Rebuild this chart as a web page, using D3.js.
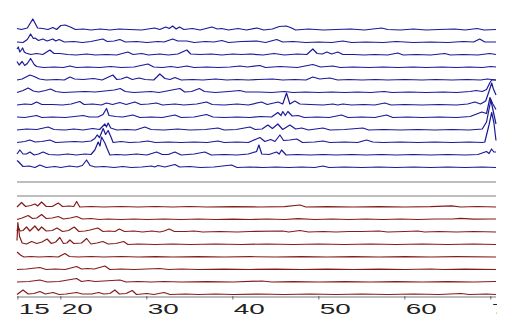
<!DOCTYPE html>
<html>
<head>
<meta charset="utf-8">
<script src="https://cdn.jsdelivr.net/npm/d3@7"></script>
<style>
  body { margin: 0; background: #fff; }
  svg { display: block; }
</style>
</head>
<body>
<svg id="chart"></svg>
<script>
// x positions (same units as the axis) and peak heights
const blueTraces = [
  [[14.9,1.5],[15.4,0.5],[16.1,2],[16.74,11],[17.3,2],[17.9,1.5],[18.5,0.5],[19.07,2.5],[19.5,0.5],[20,4.5],[20.5,5],[21.1,3],[21.7,0.5],[22.6,1],[23.5,0],[24.6,1],[25.7,0],[26.8,1],[28,0.5],[29.4,0],[30.9,2],[31.5,0.5],[32.2,3],[32.6,1.5],[33.0,4],[33.4,1],[33.8,3],[34.3,0.5],[35.3,1.5],[36.2,0],[37.56,3],[38.2,1],[38.7,1.5],[39.5,0],[40.6,1.5],[41.6,0],[42.8,2],[43.6,0],[44.6,1],[45.4,3.5],[46.2,4],[46.7,2.5],[47.3,0],[48.8,1],[50.5,0],[52,0.5],[53.7,1],[55.3,0],[57.3,2],[58,0.5],[59.5,0],[61,1],[62.5,0],[64,0.5],[65.8,1],[67,0],[68.4,1.5],[69.2,0],[70.6,0.5]],
  [[14.9,0.5],[15.6,0],[16.1,3],[16.48,8.5],[16.8,4],[17.0,4.5],[17.4,2],[17.9,3.5],[18.4,1.5],[19.07,3.5],[19.4,1.5],[19.8,3],[20.4,0.5],[21.5,1],[22.5,0],[23.5,1],[24.88,3.5],[25.4,1],[26.2,1.5],[26.86,3],[27.5,0.5],[28.8,1],[30,0],[31.3,1],[32,0.5],[33.0,3.5],[33.6,1.5],[34.65,1.5],[35.5,0],[36.8,1],[37.8,0.5],[38.72,2],[39.5,0],[41,1],[42.79,1.5],[43.8,0],[45.1,3],[45.8,0.5],[47,1],[48.5,0],[50,0.5],[51.5,0],[52.8,1.5],[53.8,0],[55.5,0.5],[57.5,0],[59,1],[61,0],[63,0.5],[65,0],[66.8,1],[68.0,0.5],[68.7,3.5],[69.3,0.5],[70.6,0.5]],
  [[14.9,6],[15.05,8],[15.23,3],[15.4,5],[15.55,7],[15.75,3],[15.93,2],[16.5,0.5],[17.2,1.5],[17.9,0.5],[18.72,5],[19.2,1.5],[19.9,1.5],[20.8,0.5],[21.8,0],[23,1],[24,0],[25.3,0.5],[26.5,0],[27.79,3],[28.4,0.5],[29.4,1.5],[30.2,0],[31.5,1],[32.5,0],[33.6,1],[34.65,5],[35.1,1],[36.2,0.5],[37.5,1],[38.7,0],[40,1],[41,0.5],[42,1],[43.5,0],[44.8,1.5],[46,0],[47.5,1],[48.6,0.5],[49.3,6],[49.8,1.5],[50.4,1],[50.93,3],[51.5,1],[52.2,3],[52.8,0.5],[54,0.5],[55.3,0],[56.5,0.5],[58,0],[59.19,2],[59.8,0],[61.3,0.5],[63,0],[64.65,1.5],[65.3,0],[66.8,0.5],[68.5,0],[69.88,1.5],[70.6,0.5]],
  [[14.9,6],[15.15,2.5],[15.5,6],[15.8,2],[16.1,4],[16.48,9],[16.9,3],[17.17,1],[18,0],[19.2,0.5],[20.3,0],[21.05,1.5],[21.8,0],[23.1,0.5],[24.5,0],[25.8,1],[27,0],[28.5,0.5],[30.12,3.5],[30.8,0.5],[31.8,0],[32.8,1],[33.6,0],[34.65,1.5],[35.5,0],[37,0.5],[38.3,0],[39.7,0.5],[40.81,1.5],[41.7,0.5],[43.14,2],[43.8,0],[45.5,1],[46.5,0.5],[47.5,0],[49.3,3],[50.2,0.5],[51.63,1.5],[52.5,0],[54,0.5],[55.8,0],[57.5,0.5],[59.2,0],[61,0.5],[62.5,0],[64.3,0.5],[66,0],[67.5,0.5],[69,0],[70,1],[70.6,0.5]],
  [[14.9,0],[15.5,1],[16.4,5],[16.9,3.5],[17.5,1],[18.3,0],[19.5,0.5],[20.4,0],[21.05,3],[21.6,1],[22.6,0.5],[23.8,1.5],[24.8,0],[26.05,5],[26.5,0.5],[27.0,1],[27.67,3],[28.3,0.5],[29.1,2],[29.8,0.5],[30.8,0],[31.51,6],[32.1,1.5],[32.7,0.5],[33.26,2.5],[34,0],[35.3,0.5],[36.5,0],[38,1],[39.3,0],[40.5,0.5],[41.8,0],[43,0.5],[44.6,1],[45.8,0],[47.2,0.5],[48.5,0],[49.3,3],[50.1,1],[51.28,2],[52.2,0],[53.5,0.5],[55,0],[56.6,0.5],[58,0],[60,0.5],[62,0],[63.6,0.5],[65.5,0],[67.2,0.5],[68.8,0],[69.6,1],[70.6,0]],
  [[14.9,0],[15.6,2],[16.2,4.5],[16.8,1.5],[17.4,0.5],[18.2,2],[18.8,3.5],[19.4,1],[20.3,0],[21.5,0.5],[22.8,1],[24,0.5],[25.1,1.5],[26.2,2.5],[26.9,4],[27.5,1],[28.5,0],[29.5,0.5],[30.5,1],[31.4,0],[33.84,4],[34.4,0.5],[35.2,1],[36.1,4],[36.7,1],[38,0],[39.5,1],[40.81,2],[41.5,0.5],[43,0.5],[44.5,0],[46,1],[47,0],[48.5,0.5],[50,0],[51.5,0.5],[53,0],[54.5,0.5],[56,0],[57.6,1],[58.5,0],[60.5,0.5],[62.5,0],[64.5,0.5],[66,0],[67.6,1],[68.3,2],[69,1],[69.5,3],[69.9,10],[70.1,12.5],[70.6,12.5]],
  [[14.9,0],[15.8,1],[16.6,0.5],[17.17,3],[17.8,0.5],[19,0.5],[20.2,0],[21.2,1],[22.2,3.5],[22.7,0.5],[23.7,1],[24.7,0],[25.31,2],[26,0.5],[26.86,2.5],[27.6,0.5],[28.6,3],[29.3,0.5],[30.2,1],[31.13,2],[31.8,0],[33.26,1],[34.3,0],[35.8,1],[36.94,3],[37.6,0.5],[39,0],[40.5,1],[41.8,0],[43.34,3],[44,0.5],[45.27,3],[45.8,1],[46.24,12],[46.63,1],[47.2,4],[47.8,1],[49,0.5],[50.5,0],[51.63,1],[52.2,0],[52.79,1],[53.8,0],[55.2,0.5],[56.5,0],[57.67,2],[58.4,0],[60,0.5],[62,0],[64,0.5],[66,0],[67.3,1],[68.14,3],[68.8,1],[69.4,4],[69.8,14],[70.1,22],[70.3,16],[70.6,10]],
  [[14.9,0.5],[15.8,0],[16.5,1],[17.17,2],[17.8,0],[19,0.5],[20.5,0],[21.6,1],[22.6,2],[23.3,0.5],[24.3,0.5],[24.9,3],[25.31,9],[25.6,2],[26.4,1],[27.2,0.5],[28.37,2.5],[29.2,0],[30.5,0.5],[31.8,0],[33.26,2.5],[34,0],[35.5,0.5],[36.94,3],[37.7,0.5],[39,0],[40.5,0.5],[42,0],[43.2,1],[44.5,0.5],[45.23,5],[45.6,2],[45.81,6],[46.1,2],[46.4,6],[46.9,1.5],[47.6,2],[48.3,0],[49.8,0.5],[51.2,0],[52.64,2.5],[53.4,0],[55,0.5],[56.5,0],[57.87,2.5],[58.6,0],[60.3,0.5],[62,0],[64,0.5],[66,0],[67.6,1],[68.95,5.5],[69.5,4],[69.9,20],[70.2,14],[70.6,8]],
  [[14.9,0],[16,1],[17.2,0.5],[18.52,3],[19.2,0.5],[20.5,0],[21.5,1],[22.6,0],[23.7,1.5],[24.5,0.5],[25.12,6],[25.3,3],[25.5,7],[25.8,2],[26.5,0],[27.6,0.5],[28.7,0],[29.77,3],[30.5,0.5],[32,0],[33.6,1],[35,0],[36.8,0.5],[38.26,2],[39,0],[40.4,0.5],[41.98,3],[42.6,0.5],[43.4,1],[44.07,5],[44.6,1.5],[45.23,6],[45.8,0.5],[46.63,5],[47.3,1],[48,2],[48.8,0],[50.47,2],[51.3,0],[53,0.5],[55.12,2],[55.8,0],[57.5,0.5],[59.5,0],[61.5,0.5],[63.5,0],[65.5,0.5],[67.5,0],[69.0,1],[69.5,8],[70.0,30],[70.3,18],[70.6,6]],
  [[14.9,0],[15.8,1],[16.4,2.5],[17,0.5],[17.8,1],[18.72,2.5],[19.4,0],[20.5,0.5],[21.6,1],[22.5,0.5],[23.5,1.5],[23.95,4],[24.22,7.5],[24.5,5],[24.92,14],[25.2,8],[25.5,12],[25.8,6],[26.08,0],[27,1],[28,0],[29.2,0.5],[30.12,1.5],[31,0],[32.5,0.5],[34,0],[35.5,0.5],[37,0],[38.26,1.5],[39,0],[40.5,0.5],[41.8,0],[43.14,5],[43.72,1],[44.4,3],[44.9,1],[45.47,7.5],[45.9,2],[46.6,2.5],[47.44,3.5],[48.1,0],[49.5,0.5],[50.47,1.5],[51.3,0],[53,0.5],[54.5,0],[55.55,2.5],[56.28,0.5],[57.5,0],[59.5,0.5],[61.5,0],[63.5,0.5],[65.5,0],[67.5,0.5],[69.0,0],[69.3,0.5],[69.8,18],[70.1,30],[70.35,20],[70.6,2]],
  [[14.9,1],[15.23,5],[15.6,1],[16.0,1],[16.4,3],[16.9,0],[17.4,1],[17.94,3],[18.6,0.5],[19.7,0],[20.8,1],[21.8,0],[22.8,1],[23.5,0.5],[23.95,5],[24.34,13],[24.55,9],[24.73,18],[25.12,12],[25.4,6],[25.7,0],[26.5,0.5],[27.5,0],[28.8,1],[30,0],[31.13,3],[31.8,0.5],[32.5,0.5],[33.26,3],[34,0],[35.5,1],[36.74,3],[37.5,0],[39,0.5],[40.5,0],[41.8,1],[42.76,3.5],[43.03,10],[43.36,1],[44.2,0.5],[45.08,3],[45.4,1],[45.66,5],[46.2,0],[47.5,0.5],[49,0],[50.5,0.5],[52,0],[53.8,0.5],[55.5,0],[57.3,0.5],[59,0],[61,0.5],[63,0],[65,0.5],[67,0],[68.5,0.5],[69.49,3.5],[69.8,1.5],[70.08,6],[70.35,3],[70.6,3]],
  [[14.9,7],[15.05,6],[15.6,1],[16.3,1.5],[17,0],[17.56,2.5],[18.3,0],[19.3,1],[20,0],[21,1.5],[21.9,0.5],[22.5,2],[22.99,7.5],[23.4,2],[24,0.5],[25,1],[26.2,0],[27.2,1],[28.2,0],[29.4,0.5],[30.55,1.5],[30.9,0.5],[31.31,2],[32.1,0.5],[33.26,3],[33.8,0.5],[35,1],[36.2,0],[37.8,0.5],[39.85,2.5],[40.5,0],[42,0.5],[43.5,0],[45,0.5],[46.5,0],[48,0.5],[49.5,0],[50.47,1.5],[51.2,0],[53,0.5],[55,0],[57,0.5],[59,0],[61,0.5],[63,0],[65,0.5],[67,0],[69,0.5],[70.6,0]]
];

const redTraces = [
  [[14.9,0],[15.43,4.5],[15.9,0.5],[16.5,1.5],[16.98,3],[17.3,1],[17.76,5],[18.3,0.5],[19.0,0.5],[19.69,4],[20.2,0.5],[21.0,1],[21.5,0.5],[21.83,5.5],[22.2,0],[23.5,0.5],[25,0],[27,0.5],[29,0],[31,0.5],[33,0],[35,0.5],[37,0],[40,0.3],[43,0],[46,0.3],[47.79,2],[48.5,0],[51,0.3],[54,0],[57,0.3],[60,0],[63,0.3],[65.43,1.2],[66.5,0],[68.5,0.5],[70.6,0]],
  [[14.9,0],[15.5,1.5],[16.2,4],[16.7,1],[17.2,1.5],[17.76,5],[18.3,1],[19,1.5],[19.69,3],[20.3,0.5],[21.1,1.5],[21.83,3],[22.5,0.5],[23.5,1],[24.5,0],[25.5,0.5],[27,0],[28.5,0.5],[30,0],[32,0.5],[34,0],[36,0.5],[38,0],[40,0.3],[42,0],[44,0.5],[46,0],[47.6,0.8],[49.5,0],[51.5,0.5],[53.5,0],[55.5,0.5],[57.5,0],[59.5,0.5],[61.5,0],[63.5,0.5],[65.5,0.5],[66.5,1.2],[68,0.3],[70,0.5],[70.6,0.5]],
  [[14.9,1],[15.05,5],[15.25,1],[15.6,1.5],[16.0,5],[16.4,1],[16.98,6],[17.4,1.5],[17.76,5],[18.3,1],[19.0,1.5],[19.55,4],[20.2,0.5],[20.9,1.5],[21.55,5],[22.1,0.5],[22.8,1],[23.4,2],[24.3,4],[24.9,0.5],[25.6,1],[26.3,0.5],[26.8,3],[27.4,0.5],[28.5,1],[29.5,0],[30.6,1],[31.5,0],[32.0,1],[32.6,3],[33.2,0.5],[34.5,0.5],[35.5,1],[36.5,0],[38.5,0.5],[40.5,0],[42,0.5],[45.8,1],[46.5,0],[47.8,1.5],[48.8,0],[50.5,0.5],[52,0],[53.5,0.5],[55,0.5],[57,1],[58,0],[60,0.5],[61.5,1],[62.3,0],[64,0.5],[66,0],[68,0.5],[70.6,0]],
  [[14.9,4],[15.0,22],[15.2,8],[15.5,1.5],[16,0.5],[16.6,3],[17.2,1],[17.8,2.5],[18.4,5.5],[18.9,1],[19.4,2.5],[19.88,7],[20.3,1],[20.7,1.5],[21.05,4.5],[21.5,1],[22.4,1.5],[23.0,6],[23.5,0.5],[24.2,1.5],[24.88,3],[25.5,0.5],[26.4,1],[27.3,3],[27.8,0],[29,0.5],[31,0],[33,0.5],[35,0],[38,0.5],[41,0],[44,0.5],[47,0],[50,0.5],[53,0],[56,0.5],[59,0],[62,0.5],[65,0],[68,0.5],[70.6,0]],
  [[14.9,5],[15.3,2],[15.7,0],[16.5,0.5],[17.5,0],[18.7,0.5],[19.7,0],[20.47,3.5],[21.0,0.5],[22,0],[23.5,0.5],[25,0],[27,0.5],[29,0],[31,0.3],[33,0],[36,0.3],[39,0],[42,0.3],[45,0],[48,0.3],[51,0],[54,0.3],[57,0],[60,0.3],[63,0],[66,0.3],[70.6,0]],
  [[14.9,0],[16,0.5],[17.56,2],[18.3,0],[19.3,0.5],[20.5,0],[21.83,3],[22.4,0.5],[23.1,1],[23.9,0.5],[25.12,3.5],[25.7,0],[27,0.5],[28.5,0],[30,0.5],[31.5,1],[32.5,0],[34,0.5],[36,0],[39,0.3],[42,0],[45,0.3],[48,0],[51,0.3],[54,0],[57,0.3],[60,0],[63,0.5],[64.5,0],[67,0.3],[70.6,0]],
  [[14.9,0],[16.3,0.5],[17.56,2],[18.4,0],[19.8,0.5],[21.83,3.5],[22.4,0.5],[23.2,1.5],[24.0,0.5],[25,1],[26.86,2],[27.6,0],[29,0.5],[30.5,0],[32,0.5],[34,0],[37,0.3],[40,0],[43.4,1],[44.5,0],[47,0.3],[50,0],[53,0.3],[56,0],[59,0.3],[62,0],[65,0.3],[68,0],[70.6,0.5]],
  [[14.9,0],[15.6,4.5],[16.2,0.5],[16.9,1],[17.56,3],[18.2,0.5],[19.1,2],[19.8,0],[20.6,0.5],[21.83,2],[22.5,0.5],[23.6,0.5],[24.4,2],[25.0,0.5],[25.7,1],[26.28,4.5],[26.8,0.5],[27.6,1],[28.3,4],[28.8,0],[30,1],[30.8,0],[32,2],[32.7,0],[34.5,0.5],[36,0],[38,0.5],[40,0],[43,0.5],[46,0],[49,0.5],[52,0],[55,0.5],[58,0],[61,0.5],[64,0],[66.5,1],[67.5,0],[69.5,0.5],[70.6,0]]
];

const tickValues = [15, 20, 30, 40, 50, 60, 70];

const W = 512, H = 335;
const svg = d3.select("#chart").attr("width", W).attr("height", H);

// shared scales
const x = d3.scaleLinear().domain([14.9, 70.6]).range([17, 496]);
const amp = d3.scaleLinear().domain([0, 30]).range([0, 30]);

// baselines of each stack
const yBlue = d3.scalePoint().domain(d3.range(blueTraces.length)).range([30, 167.5]);
const yRed = d3.scalePoint().domain(d3.range(redTraces.length)).range([207, 294.5]);

function drawStack(traces, yPos, color) {
    traces.forEach((trace, i) => {
        const base = yPos(i);
        const line = d3.line()
            .x(d => x(d[0]))
            .y(d => base - amp(d[1]));
        svg.append("path")
            .datum(trace)
            .attr("fill", "none")
            .attr("stroke", color)
            .attr("stroke-width", 1.2)
            .attr("stroke-linejoin", "round")
            .attr("d", line);
    });
}

// separator lines between panels
[182, 196].forEach(yy => {
    svg.append("line")
        .attr("x1", x(14.9)).attr("x2", x(70.6))
        .attr("y1", yy).attr("y2", yy)
        .attr("stroke", "#a8a8a8").attr("stroke-width", 1.5);
});

drawStack(blueTraces, yBlue, "#1a1a99");
drawStack(redTraces, yRed, "#851c1c");

// bottom axis, labels start at the tick and are cut at the right edge
const axis = svg.append("g")
    .attr("transform", "translate(0,297)");

axis.append("defs").append("clipPath").attr("id", "axisClip")
    .append("rect").attr("x", 0).attr("y", -10).attr("width", 497).attr("height", 40);

axis.append("line")
    .attr("x1", x(14.9)).attr("x2", x(70.6))
    .attr("stroke", "#777").attr("stroke-width", 1);

axis.selectAll(".tick")
    .data(tickValues)
    .join("line")
    .attr("class", "tick")
    .attr("x1", d => x(d)).attr("x2", d => x(d))
    .attr("y1", -1).attr("y2", 2.5)
    .attr("stroke", "#666");

axis.append("g")
    .attr("clip-path", "url(#axisClip)")
    .selectAll(".lbl")
    .data(tickValues)
    .join("text")
    .attr("class", "lbl")
    .attr("x", d => x(d) + 1)
    .attr("y", 17)
    .attr("font-family", "Liberation Sans, Arial, sans-serif")
    .attr("font-size", 14)
    .attr("textLength", 31)
    .attr("lengthAdjust", "spacingAndGlyphs")
    .attr("fill", "#222")
    .text(d => d);
</script>
</body>
</html>
